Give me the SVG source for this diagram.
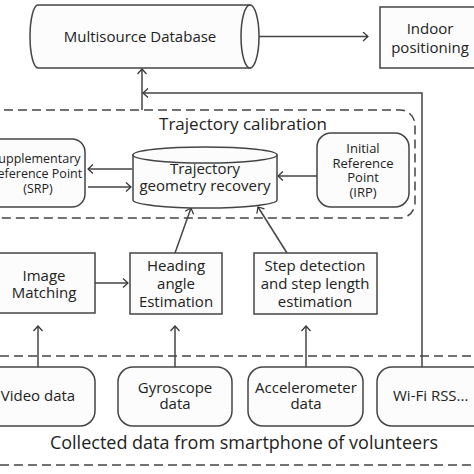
<svg xmlns="http://www.w3.org/2000/svg" width="474" height="474" viewBox="0 0 474 474">
<defs>
<marker id="arr" viewBox="0 0 10 10" refX="9" refY="5" markerWidth="10" markerHeight="10" markerUnits="userSpaceOnUse" orient="auto">
<path d="M4,0.5 L9,5 L4,9.5" fill="none" stroke="#333" stroke-width="1.2"/>
</marker>
</defs>
<style>
.box{fill:#fcfcfc;stroke:#444;stroke-width:1.5}
.ln{fill:none;stroke:#444;stroke-width:1.5}
.dash{fill:none;stroke:#444;stroke-width:1.5;stroke-dasharray:9 5}
text{font-family:"Open Sans","DejaVu Sans",sans-serif;fill:#222;text-anchor:middle;dominant-baseline:central}
.t12{font-size:12.5px}
.t13{font-size:13px}
.t15{font-size:15px}
</style>
<rect width="474" height="474" fill="#fff"/>
<g id="frames">
<path class="dash" d="M-10,110 L400,110 A15,15 0 0 1 415,125 L415,203 A15,15 0 0 1 400,218 L-10,218"/>
<text x="243" y="123" style="font-size:17px">Trajectory calibration</text>
<line class="dash" x1="0" y1="356" x2="474" y2="356"/>
<line class="dash" x1="0" y1="465" x2="474" y2="465"/>
<text x="244" y="442" style="font-size:18px">Collected data from smartphone of volunteers</text>
</g>
<g id="connectors">
<line class="ln" x1="259" y1="36.5" x2="368" y2="36.5" marker-end="url(#arr)"/>
<line class="ln" x1="142" y1="110" x2="142" y2="69" marker-end="url(#arr)"/>
<polyline class="ln" points="422,367 422,93 143,93" marker-end="url(#arr)"/>
<line class="ln" x1="132" y1="169" x2="88" y2="169" marker-end="url(#arr)"/>
<line class="ln" x1="88" y1="187" x2="131" y2="187" marker-end="url(#arr)"/>
<line class="ln" x1="317" y1="176" x2="278" y2="176" marker-end="url(#arr)"/>
<line class="ln" x1="175" y1="253" x2="191" y2="208" marker-end="url(#arr)"/>
<line class="ln" x1="287" y1="253" x2="258" y2="207" marker-end="url(#arr)"/>
<line class="ln" x1="95" y1="283" x2="128" y2="283" marker-end="url(#arr)"/>
<line class="ln" x1="38" y1="367" x2="38" y2="326" marker-end="url(#arr)"/>
<line class="ln" x1="175" y1="367" x2="175" y2="326" marker-end="url(#arr)"/>
<line class="ln" x1="306" y1="367" x2="306" y2="326" marker-end="url(#arr)"/>
</g>
<g id="multisource">
<path class="box" d="M38,5 L250,5 L250,68 L38,68 A8,31.5 0 0 1 38,5 Z"/>
<ellipse class="box" cx="250" cy="36.5" rx="9" ry="31.5"/>
<text x="140" y="36" class="t15">Multisource Database</text>
</g>
<g id="indoor">
<rect class="box" x="380" y="7" width="100" height="61"/>
<text x="430" y="28" class="t15">Indoor</text>
<text x="430" y="47" class="t15">positioning</text>
</g>
<g id="srp">
<rect class="box" x="-20" y="139" width="105" height="68" rx="13"/>
<text x="36" y="158" class="t12">Supplementary</text>
<text x="36" y="173" class="t12">Reference Point</text>
<text x="38" y="188" class="t12">(SRP)</text>
</g>
<g id="recovery">
<path class="box" d="M133,155 L133,200 A72,8 0 0 0 277,200 L277,155 Z"/>
<ellipse class="box" cx="205" cy="155" rx="72" ry="8"/>
<text x="205" y="168" class="t15">Trajectory</text>
<text x="205" y="185" class="t15">geometry recovery</text>
</g>
<g id="irp">
<rect class="box" x="317" y="133" width="92" height="74" rx="14"/>
<text x="363" y="148" class="t13">Initial</text>
<text x="363" y="163" class="t13">Reference</text>
<text x="363" y="177" class="t13">Point</text>
<text x="363" y="192" class="t13">(IRP)</text>
</g>
<g id="image">
<rect class="box" x="-2" y="253" width="97" height="60"/>
<text x="44" y="275" class="t15">Image</text>
<text x="44" y="292" class="t15">Matching</text>
</g>
<g id="heading">
<rect class="box" x="130" y="253" width="92" height="61"/>
<text x="176" y="265" class="t15">Heading</text>
<text x="176" y="283" class="t15">angle</text>
<text x="176" y="301" class="t15">Estimation</text>
</g>
<g id="step">
<rect class="box" x="254" y="253" width="123" height="61"/>
<text x="315" y="265" class="t15">Step detection</text>
<text x="315" y="283" class="t15">and step length</text>
<text x="315" y="301" class="t15">estimation</text>
</g>
<g id="video">
<rect class="box" x="-20" y="367" width="115" height="59" rx="15"/>
<text x="38" y="395" class="t15">Video data</text>
</g>
<g id="gyro">
<rect class="box" x="118" y="367" width="114" height="59" rx="15"/>
<text x="175" y="387" class="t15">Gyroscope</text>
<text x="175" y="403" class="t15">data</text>
</g>
<g id="accel">
<rect class="box" x="248" y="367" width="115" height="59" rx="15"/>
<text x="306" y="387" class="t15">Accelerometer</text>
<text x="306" y="403" class="t15">data</text>
</g>
<g id="wifi">
<rect class="box" x="377" y="367" width="120" height="59" rx="15"/>
<text x="393" y="395" class="t15" style="text-anchor:start">Wi-Fi RSS...</text>
</g>
</svg>
